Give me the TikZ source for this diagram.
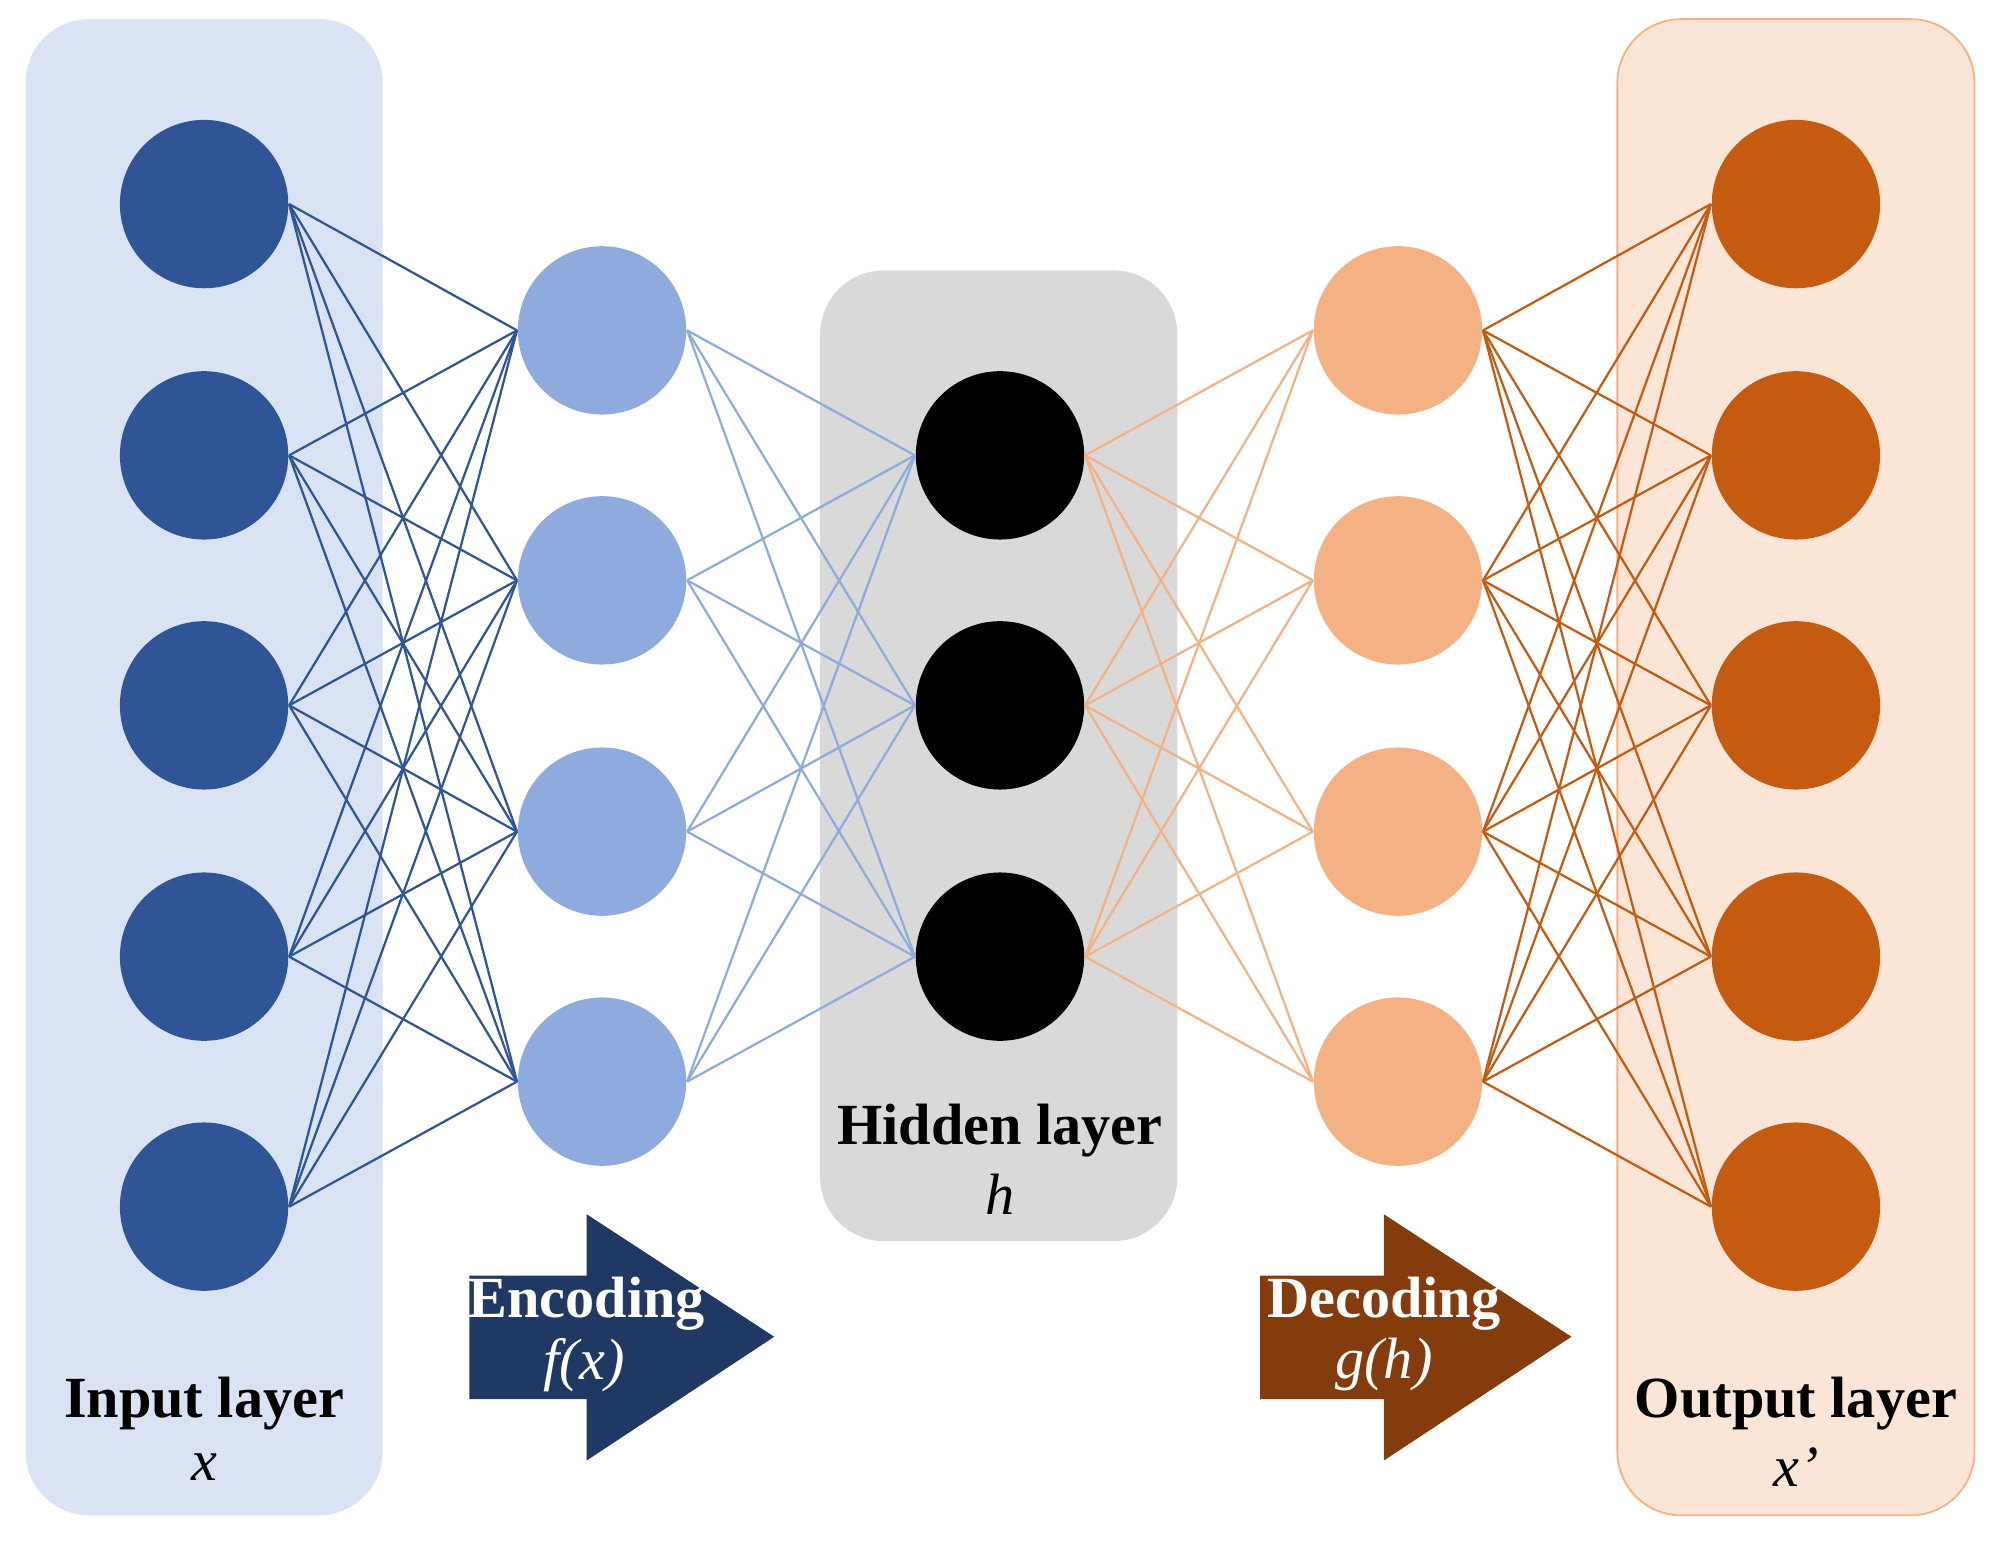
\documentclass[tikz,border=0pt]{standalone}
\usepackage{fontspec}
\setmainfont{Liberation Serif}
\definecolor{inbg}{HTML}{DAE3F3}
\definecolor{hidbg}{HTML}{D9D9D9}
\definecolor{outbg}{HTML}{FBE5D6}
\definecolor{outbd}{HTML}{F4B183}
\definecolor{cin}{HTML}{2F5597}
\definecolor{cenc}{HTML}{8FAADC}
\definecolor{cdec}{HTML}{F4B183}
\definecolor{cout}{HTML}{C55A11}
\definecolor{aenc}{HTML}{203864}
\definecolor{adec}{HTML}{843C0C}
\begin{document}
\begin{tikzpicture}[x=0.1mm,y=-0.1mm,
  neu/.style={circle,minimum size=13.2mm,inner sep=0pt},
  panel/.style={rounded corners=5mm},
  lab/.style={font=\fontsize{13}{15}\selectfont\bfseries},
  sub/.style={font=\fontsize{13}{15}\selectfont\itshape},
  conn/.style={line width=0.5pt}]
\useasboundingbox (0,0) rectangle (1568,1208);
\fill[white] (0,0) rectangle (1568,1208);
\fill[inbg,panel] (20,15) rectangle (300,1188);
\fill[hidbg,panel] (643,212) rectangle (923,973);
\filldraw[fill=outbg,draw=outbd,line width=0.4pt,panel] (1268,15) rectangle (1548,1188);
\foreach \i/\y in {1/160,2/357,3/553,4/750,5/946}{
  \node[neu,fill=cin] (i\i) at (160,\y) {};
  \node[neu,fill=cout] (o\i) at (1408,\y) {};}
\foreach \i/\y in {1/259,2/455,3/652,4/848}{
  \node[neu,fill=cenc] (e\i) at (472,\y) {};
  \node[neu,fill=cdec] (d\i) at (1096,\y) {};}
\foreach \i/\y in {1/357,2/553,3/750}
  \node[neu,fill=black] (h\i) at (784,\y) {};
\foreach \a in {1,...,5}\foreach \b in {1,...,4}{
  \draw[conn,cin] (i\a.east) -- (e\b.west);
  \draw[conn,cout] (d\b.east) -- (o\a.west);}
\foreach \a in {1,...,4}\foreach \b in {1,2,3}{
  \draw[conn,cenc] (e\a.east) -- (h\b.west);
  \draw[conn,cdec] (h\b.east) -- (d\a.west);}
\node[lab] (tin) at (160,1100) {Input layer};
\node[sub] (sin) at (160,1150) {x};
\node[lab] (thid) at (784,886) {Hidden layer};
\node[sub] (shid) at (784,936) {h};
\node[lab] (tout) at (1408,1100) {Output layer};
\node[sub] (sout) at (1408,1150) {x’};
\fill[aenc] (368,1000) -- (460,1000) -- (460,952) -- (607,1048) -- (460,1145) -- (460,1097) -- (368,1097) -- cycle;
\fill[adec] (988,1000) -- (1085,1000) -- (1085,952) -- (1232,1048) -- (1085,1145) -- (1085,1097) -- (988,1097) -- cycle;
\node[lab,white] (tenc) at (460,1022) {Encoding};
\node[sub,white] (senc) at (458,1070) {f(x)};
\node[lab,white] (tdec) at (1085,1022) {Decoding};
\node[sub,white] (sdec) at (1085,1070) {g(h)};
\end{tikzpicture}
\end{document}
